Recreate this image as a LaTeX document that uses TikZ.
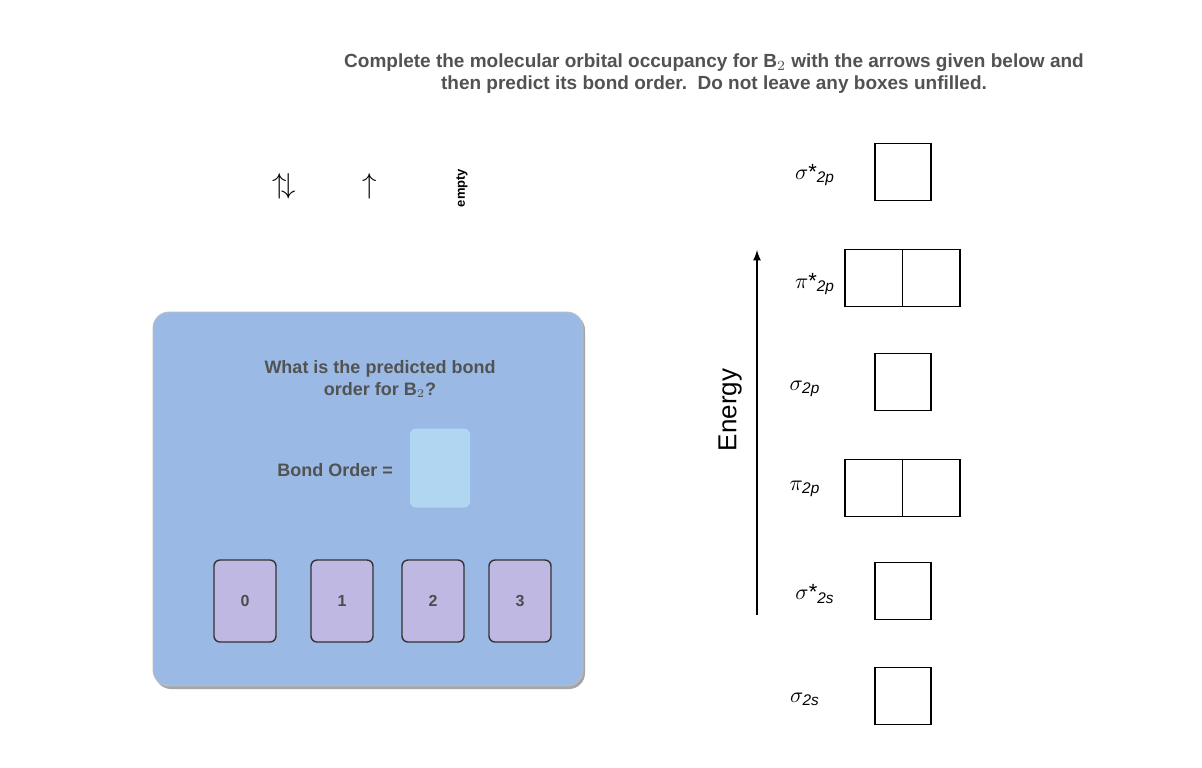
\documentclass[tikz,border=0pt]{standalone}
\usepackage{fontspec}
\setmainfont{Liberation Sans}
\begin{document}
\begin{tikzpicture}[x=0.5pt,y=-0.5pt,
 gtxt/.style={text=black!68,font=\bfseries\fontsize{9.5}{11}\selectfont,align=center},
 orb/.style={draw,line width=0.8pt,minimum width=28pt,minimum height=28.5pt,inner sep=0},
 lab/.style={font=\fontsize{11}{12}\selectfont,anchor=center},
 card/.style={draw=black!80,line width=0.7pt,fill=cyan!10!blue!25!white,rounded corners=3pt,minimum width=31pt,minimum height=41pt,font=\bfseries\fontsize{8}{9}\selectfont,text=black!70}]
\useasboundingbox (0,0) rectangle (1202,767);
\fill[white] (0,0) rectangle (1202,767);
\node[gtxt] (title) at (714,74) {Complete the molecular orbital occupancy for B$_2$ with the arrows given below and\\then predict its bond order.\ \ Do not leave any boxes unfilled.};
\node[font=\fontsize{14}{14}\selectfont] (a1) at (284,186) {$\uparrow\!\downarrow$};
\node[font=\fontsize{14}{14}\selectfont] (a2) at (370,186) {$\uparrow$};
\node[rotate=90,font=\bfseries\fontsize{6.5}{7}\selectfont] (em) at (462,188) {empty};
% panel
\fill[black!35,rounded corners=8pt] (155,314) rectangle (585,689);
\node[draw=black!25,fill=cyan!55!blue!40!white,rounded corners=8pt,minimum width=215pt,minimum height=187pt,inner sep=0] (panel) at (368,499) {};
\node[gtxt,font=\bfseries\fontsize{9}{11}\selectfont] (q) at (380,379) {What is the predicted bond\\order for B$_{2}$?};
\node[gtxt,font=\bfseries\fontsize{9}{11}\selectfont,anchor=east] (bo) at (400,470) {Bond Order =};
\node[fill=cyan!25!white,fill opacity=0.6,rounded corners=3pt,minimum width=30pt,minimum height=39.5pt,inner sep=0] (ans) at (440,468) {};
\node[card] (c0) at (245,601) {0};
\node[card] (c1) at (342,601) {1};
\node[card] (c2) at (433,601) {2};
\node[card] (c3) at (520,601) {3};
% energy diagram
\coordinate (eb) at (757,615);
\coordinate (et) at (757,250);
\draw[-latex,line width=0.8pt] (eb) -- (et);
\node[rotate=90,font=\fontsize{13}{13}\selectfont] (en) at (730,410) {Energy};
\node[orb] (o6) at (903,172) {};
\node[orb,minimum width=57.5pt] (o5) at (902.5,278) {};
\draw[line width=0.8pt] (o5.north) -- (o5.south);
\node[orb] (o4) at (903,382) {};
\node[orb,minimum width=57.5pt] (o3) at (902.5,488) {};
\draw[line width=0.8pt] (o3.north) -- (o3.south);
\node[orb] (o2) at (903,591) {};
\node[orb] (o1) at (903,696) {};
\node[lab] (l6) at (815,175) {$\sigma$*$_{\mathit{2p}}$};
\node[lab] (l5) at (815,284) {$\pi$*$_{\mathit{2p}}$};
\node[lab] (l4) at (805,389) {$\sigma_{\mathit{2p}}$};
\node[lab] (l3) at (805,489) {$\pi_{\mathit{2p}}$};
\node[lab] (l2) at (815,594) {$\sigma$*$_{\mathit{2s}}$};
\node[lab] (l1) at (805,699) {$\sigma_{\mathit{2s}}$};
\end{tikzpicture}
\end{document}
